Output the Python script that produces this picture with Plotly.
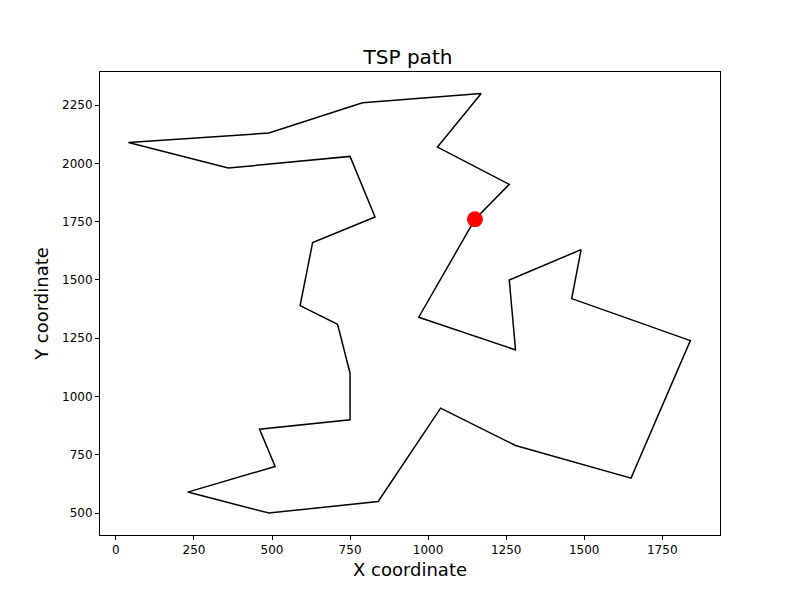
import plotly.graph_objects as go

# tour order, closed back to the start
x_coords = [1150, 1260, 1030, 1170, 790, 490, 40, 360, 750, 830, 630, 590, 710, 750, 750,
            460, 510, 230, 490, 840, 1040, 1280, 1650, 1840, 1460, 1490, 1260, 1280, 970, 1150]
y_coords = [1760, 1910, 2070, 2300, 2260, 2130, 2090, 1980, 2030, 1770, 1660, 1390, 1310, 1100, 900,
            860, 700, 590, 500, 550, 950, 790, 650, 1240, 1420, 1630, 1500, 1200, 1340, 1760]
start_x = [1150]
start_y = [1760]

fig = go.Figure()
fig.add_trace(go.Scatter(x=x_coords, y=y_coords, mode="lines",
                         line=dict(color="black", width=1.5), hoverinfo="skip"))
fig.add_trace(go.Scatter(x=start_x, y=start_y, mode="markers",
                         marker=dict(color="red", size=16)))

axis_common = dict(showgrid=False, zeroline=False, showline=True, linecolor="black",
                   mirror=True, ticks="outside", ticklen=4, tickcolor="black",
                   automargin=False, tickfont=dict(size=12, color="black"))
fig.update_xaxes(range=[-51, 1935], tickvals=[0, 250, 500, 750, 1000, 1250, 1500, 1750],
                 title=dict(text="X coordinate", font=dict(size=18, color="black"), standoff=6),
                 **axis_common)
fig.update_yaxes(range=[406, 2392], tickvals=[500, 750, 1000, 1250, 1500, 1750, 2000, 2250],
                 title=dict(text="Y coordinate", font=dict(size=18, color="black"), standoff=8),
                 **axis_common)
fig.update_layout(
    width=800, height=600, showlegend=False,
    title=dict(text="TSP path", x=0.5, xanchor="center", y=0.918, yanchor="middle",
               font=dict(size=20, color="black")),
    font=dict(family="DejaVu Sans"),
    plot_bgcolor="white", paper_bgcolor="white",
    margin=dict(l=92, r=88, t=64, b=73),
)
fig.write_html("out.html")
